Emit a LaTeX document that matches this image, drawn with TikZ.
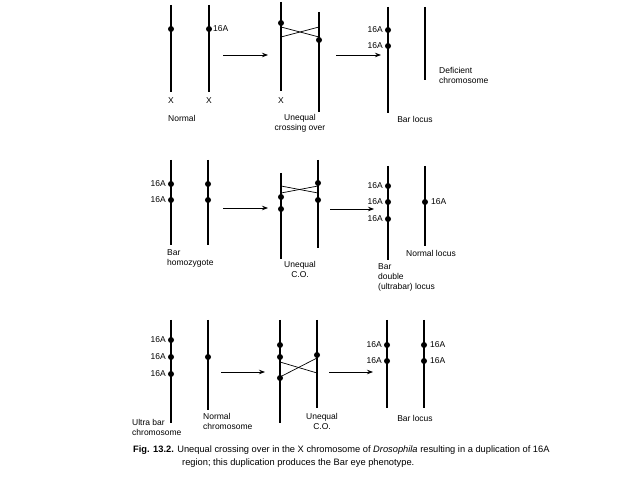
\documentclass[tikz,border=0pt]{standalone}
\usepackage{fontspec}
\setmainfont{Liberation Sans}
\usetikzlibrary{arrows.meta}
\begin{document}
\begin{tikzpicture}[x=1pt,y=-1pt,
 chr/.style={line width=1.2pt},
 dot/.style={circle,fill=black,inner sep=0pt,minimum size=6pt},
 lbl/.style={font=\fontsize{8.5}{10}\selectfont,inner sep=0pt},
 arr/.style={line width=0.8pt,-{Stealth[length=6pt,width=4.5pt]}},
 xl/.style={line width=0.7pt}]
\useasboundingbox[fill=white] (0,0) rectangle (638,478);
% Row 1
\draw[chr] (171,5) -- (171,92); \node[dot] (a1) at (171,29) {};
\draw[chr] (209,5) -- (209,92); \node[dot] (b1) at (209,29) {};
\node[lbl,anchor=west] at (213,29) {16A};
\node[lbl] at (171,101) {X}; \node[lbl] at (209,101) {X};
\coordinate (r1a) at (223,55); \coordinate (r1b) at (268,55); \draw[arr] (r1a) -- (r1b);
\draw[chr] (281,2) -- (281,91); \node[dot] at (281,23) {};
\draw[chr] (319,12) -- (319,112); \node[dot] at (319,40) {};
\draw[xl] (281,27) -- (319,37); \draw[xl] (281,37) -- (319,27);
\node[lbl] at (281,101) {X};
\coordinate (r1c) at (336,55); \coordinate (r1d) at (381,55); \draw[arr] (r1c) -- (r1d);
\draw[chr] (388,7) -- (388,113); \node[dot] at (388,30) {}; \node[dot] at (388,46) {};
\node[lbl,anchor=east] at (383,30) {16A}; \node[lbl,anchor=east] at (383,46) {16A};
\draw[chr] (425,7) -- (425,80);
\node[lbl,anchor=north west,align=left] at (439,67) {Deficient\\chromosome};
\node[lbl,anchor=west] at (168,118) {Normal};
\node[lbl,anchor=north,align=center] at (300,114) {Unequal\\crossing over};
\node[lbl] at (415,119) {Bar locus};
% Row 2
\draw[chr] (171,160) -- (171,245); \node[dot] at (171,184) {}; \node[dot] at (171,200) {};
\node[lbl,anchor=east] at (166,184) {16A}; \node[lbl,anchor=east] at (166,200) {16A};
\draw[chr] (208,160) -- (208,245); \node[dot] at (208,184) {}; \node[dot] at (208,200) {};
\coordinate (r2a) at (223,208); \coordinate (r2b) at (268,208); \draw[arr] (r2a) -- (r2b);
\draw[chr] (281,173) -- (281,259); \node[dot] at (281,197) {}; \node[dot] at (281,209) {};
\draw[chr] (318,160) -- (318,248); \node[dot] at (318,183) {}; \node[dot] at (318,200) {};
\draw[xl] (281,186) -- (318,193); \draw[xl] (281,193) -- (318,186);
\coordinate (r2c) at (330,209); \coordinate (r2d) at (374,209); \draw[arr] (r2c) -- (r2d);
\draw[chr] (388,166) -- (388,260); \node[dot] at (388,186) {}; \node[dot] at (388,202) {}; \node[dot] at (388,219) {};
\node[lbl,anchor=east] at (383,186) {16A}; \node[lbl,anchor=east] at (383,202) {16A}; \node[lbl,anchor=east] at (383,219) {16A};
\draw[chr] (425,166) -- (425,246); \node[dot] at (425,202) {};
\node[lbl,anchor=west] at (431,202) {16A};
\node[lbl,anchor=north west,align=left] at (167,249) {Bar\\homozygote};
\node[lbl,anchor=north,align=center] at (300,261) {Unequal\\C.O.};
\node[lbl,anchor=west] at (406,253) {Normal locus};
\node[lbl,anchor=north west,align=left] at (378,263) {Bar\\double\\(ultrabar) locus};
% Row 3
\draw[chr] (171,320) -- (171,423); \node[dot] at (171,340) {}; \node[dot] at (171,357) {}; \node[dot] at (171,374) {};
\node[lbl,anchor=east] at (166,340) {16A}; \node[lbl,anchor=east] at (166,357) {16A}; \node[lbl,anchor=east] at (166,374) {16A};
\draw[chr] (208,320) -- (208,410); \node[dot] at (208,357) {};
\coordinate (r3a) at (221,372); \coordinate (r3b) at (265,372); \draw[arr] (r3a) -- (r3b);
\draw[chr] (280,320) -- (280,423); \node[dot] at (280,345) {}; \node[dot] at (280,357) {}; \node[dot] at (280,378) {};
\draw[chr] (317,320) -- (317,408); \node[dot] at (317,355) {};
\draw[xl] (280,362) -- (317,373); \draw[xl] (280,377) -- (317,358);
\coordinate (r3c) at (329,372); \coordinate (r3d) at (373,372); \draw[arr] (r3c) -- (r3d);
\draw[chr] (387,320) -- (387,408); \node[dot] at (387,345) {}; \node[dot] at (387,361) {};
\node[lbl,anchor=east] at (382,345) {16A}; \node[lbl,anchor=east] at (382,361) {16A};
\draw[chr] (424,320) -- (424,408); \node[dot] at (424,345) {}; \node[dot] at (424,361) {};
\node[lbl,anchor=west] at (430,345) {16A}; \node[lbl,anchor=west] at (430,361) {16A};
\node[lbl,anchor=north west,align=left] at (132,419) {Ultra bar\\chromosome};
\node[lbl,anchor=north west,align=left] at (203,413) {Normal\\chromosome};
\node[lbl,anchor=north,align=center] at (322,413) {Unequal\\C.O.};
\node[lbl] at (415,418) {Bar locus};
% Caption
\node[anchor=north west,inner sep=0pt,font=\fontsize{9.3}{12.5}\selectfont,align=left] at (133,446)
 {\textbf{Fig. 13.2.} Unequal crossing over in the X chromosome of \textit{Drosophila} resulting in a duplication of 16A\\
 \hspace*{49pt}region; this duplication produces the Bar eye phenotype.};
\end{tikzpicture}
\end{document}
